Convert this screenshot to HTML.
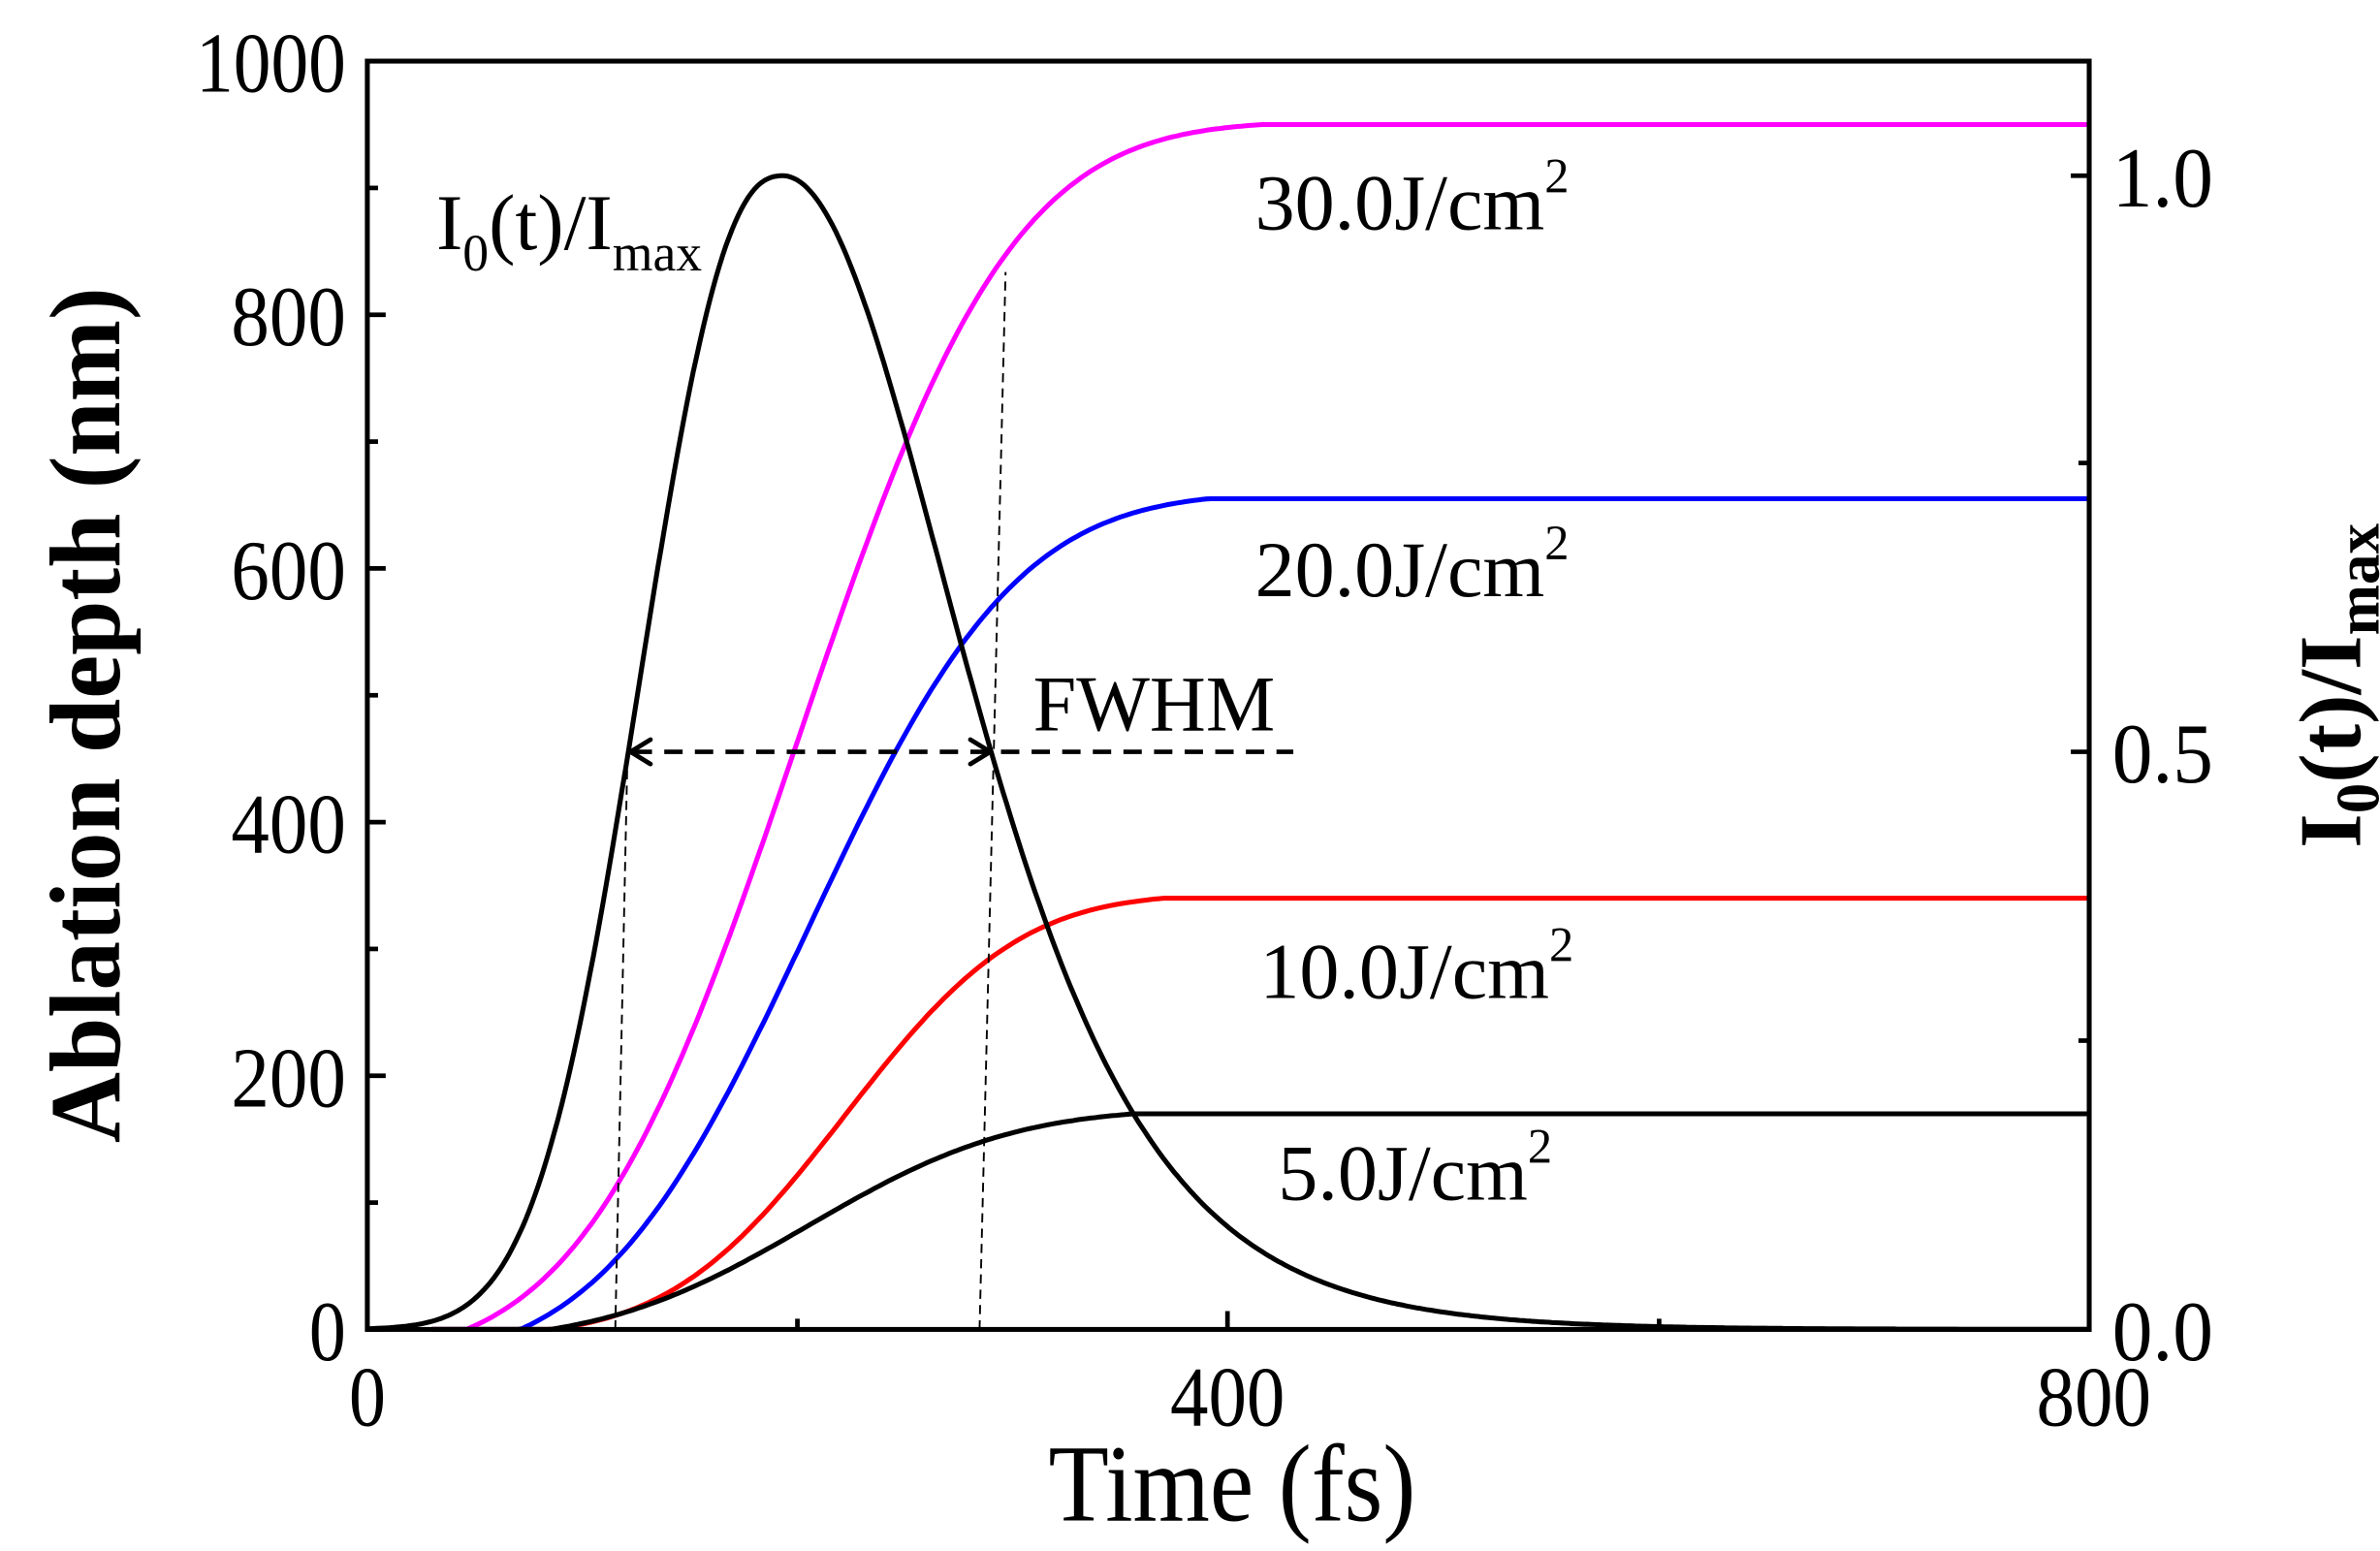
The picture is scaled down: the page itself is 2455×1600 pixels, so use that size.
<!DOCTYPE html>
<html><head><meta charset="utf-8"><style>
html,body{margin:0;padding:0;background:#fff;width:2455px;height:1600px;overflow:hidden}
svg{display:block}
text{font-family:"Liberation Serif","Times New Roman",serif;fill:#000}
</style></head><body>
<svg id="s" width="2455" height="1600" viewBox="0 0 1555 1015" preserveAspectRatio="none" xmlns="http://www.w3.org/2000/svg">
<g id="curves" fill="none" stroke-linejoin="round"></g>
<g stroke="#000" stroke-width="1.2" stroke-dasharray="6,4" fill="none">
<line x1="402" y1="870" x2="410" y2="492"/>
<line x1="640" y1="870" x2="657" y2="178"/>
</g>
<g stroke="#000" stroke-width="3" stroke-dasharray="12,8" fill="none">
<line x1="414" y1="492" x2="845" y2="492"/>
</g>
<g stroke="#000" stroke-width="3" fill="none" stroke-linecap="round" stroke-linejoin="round">
<polyline points="425,484 412,492 425,500"/>
<polyline points="634,484 647,492 634,500"/>
</g>
<rect x="240" y="40" width="1125" height="830" fill="none" stroke="#000" stroke-width="3.2"/>
<g stroke="#000" stroke-width="3">
<line x1="240" y1="870" x2="252" y2="870"/><line x1="240" y1="704" x2="252" y2="704"/>
<line x1="240" y1="538" x2="252" y2="538"/><line x1="240" y1="372" x2="252" y2="372"/>
<line x1="240" y1="206" x2="252" y2="206"/>
<line x1="240" y1="787" x2="247" y2="787"/><line x1="240" y1="621" x2="247" y2="621"/>
<line x1="240" y1="455" x2="247" y2="455"/><line x1="240" y1="289" x2="247" y2="289"/>
<line x1="240" y1="123" x2="247" y2="123"/>
<line x1="802" y1="870" x2="802" y2="858"/>
<line x1="521" y1="870" x2="521" y2="863"/><line x1="1084" y1="870" x2="1084" y2="863"/>
<line x1="1365" y1="492" x2="1353" y2="492"/><line x1="1365" y1="115" x2="1353" y2="115"/>
<line x1="1365" y1="681" x2="1358" y2="681"/><line x1="1365" y1="303" x2="1358" y2="303"/>
</g>
<g font-size="56" text-anchor="end">
<text x="226" y="890" textLength="24" lengthAdjust="spacingAndGlyphs">0</text>
<text x="226" y="724" textLength="75" lengthAdjust="spacingAndGlyphs">200</text>
<text x="226" y="558" textLength="75" lengthAdjust="spacingAndGlyphs">400</text>
<text x="226" y="392" textLength="75" lengthAdjust="spacingAndGlyphs">600</text>
<text x="226" y="226" textLength="75" lengthAdjust="spacingAndGlyphs">800</text>
<text x="226" y="60" textLength="98" lengthAdjust="spacingAndGlyphs">1000</text>
</g>
<g font-size="56" text-anchor="middle">
<text x="240" y="933" textLength="24" lengthAdjust="spacingAndGlyphs">0</text>
<text x="802" y="933" textLength="75" lengthAdjust="spacingAndGlyphs">400</text>
<text x="1368" y="933" textLength="75" lengthAdjust="spacingAndGlyphs">800</text>
</g>
<g font-size="56">
<text x="1380" y="890" textLength="66" lengthAdjust="spacingAndGlyphs">0.0</text>
<text x="1380" y="512" textLength="66" lengthAdjust="spacingAndGlyphs">0.5</text>
<text x="1380" y="135" textLength="66" lengthAdjust="spacingAndGlyphs">1.0</text>
</g>
<text x="805" y="995" font-size="72" text-anchor="middle" textLength="240" lengthAdjust="spacingAndGlyphs">Time (fs)</text>
<text transform="translate(78,468) rotate(-90)" font-size="66" font-weight="bold" text-anchor="middle" textLength="560" lengthAdjust="spacingAndGlyphs">Ablation depth (nm)</text>
<text transform="translate(1542,555) rotate(-90)" font-size="58" font-weight="bold">I<tspan font-size="40" dy="12">0</tspan><tspan dy="-12">(t)/I</tspan><tspan font-size="40" dy="12">max</tspan></text>
<g font-size="52">
<text x="820" y="150">30.0J/cm<tspan font-size="32" dy="-24">2</tspan></text>
<text x="820" y="390">20.0J/cm<tspan font-size="32" dy="-24">2</tspan></text>
<text x="823" y="653">10.0J/cm<tspan font-size="32" dy="-24">2</tspan></text>
<text x="835" y="785">5.0J/cm<tspan font-size="32" dy="-24">2</tspan></text>
<text x="675" y="478" textLength="158" lengthAdjust="spacingAndGlyphs">FWHM</text>
<text x="285" y="163">I<tspan font-size="34" dy="14">0</tspan><tspan dy="-14">(t)/I</tspan><tspan font-size="34" dy="14">max</tspan></text>
</g>
</svg>
<script>
(function(){
var g=document.getElementById('curves');
function X(t){return 240+t*1.40625;}
function Y(d){return 870-d*0.83;}
function erf(x){var s=x<0?-1:1;x=Math.abs(x);var t=1/(1+0.3275911*x);var y=1-(((((1.061405429*t-1.453152027)*t)+1.421413741)*t-0.284496736)*t+0.254829592)*t*Math.exp(-x*x);return s*y;}
function Phi(t,m,s){return 0.5*(1+erf((t-m)/(s*Math.SQRT2)));}
function add(d,c,w){var p=document.createElementNS('http://www.w3.org/2000/svg','path');p.setAttribute('d',d);p.setAttribute('stroke',c);p.setAttribute('stroke-width',w);g.appendChild(p);}
function depth(D,m,s,t0,tp,c){var a=Phi(t0,m,s),b=Phi(tp,m,s);var d='';for(var t=30;t<=800;t+=2){var f=(Phi(t,m,s)-a)/(b-a);if(t<t0)f=0;if(f>1||t>tp)f=1;d+=(t==30?'M':'L')+X(t).toFixed(1)+','+Y(D*f).toFixed(1);}add(d,c,3.2);}
depth(950,200,78,46,416,'#ff00ff');
depth(655,205,76,71,391,'#0000ff');
depth(340,222,64,85,370,'#ff0000');
depth(170,205,75,85,356,'#000000');
var d='';for(var t=0;t<=800;t+=1.5){var v;if(t<=193){var z=(193-t)/61;v=Math.exp(-Math.pow(z,2.4)/2*Math.pow(1.1774,-0.4)*1);}else{var x=(t-193)/110;var c=Math.cosh(x);v=1/(c*c);}var y=870-755*v;d+=(t==0?'M':'L')+X(t).toFixed(1)+','+y.toFixed(1);}
add(d,'#000',3.2);
})();
</script>
</body></html>
